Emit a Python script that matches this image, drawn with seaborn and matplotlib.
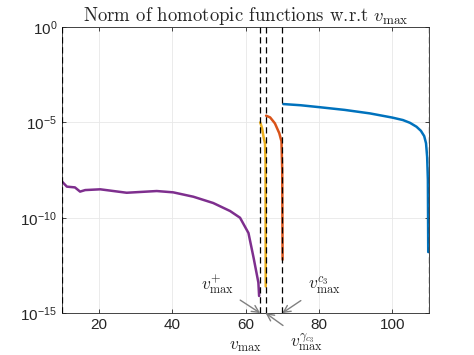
import matplotlib
matplotlib.use("Agg")
import matplotlib.pyplot as plt
import seaborn as sns
import pandas as pd

# branch data
purple_x = [10, 11.3, 13.5, 14.9, 16.3, 20.4, 27.6, 35.8, 40.3, 45.8, 51.2,
            55.8, 58.5, 60.8, 62.2, 63.5, 63.7]
purple_y = [7.76e-9, 4.27e-9, 3.89e-9, 2.34e-9, 2.82e-9, 3.09e-9, 2.04e-9,
            2.51e-9, 2.14e-9, 1.26e-9, 5.9e-10, 2.24e-10, 1e-10, 1.58e-11,
            7.9e-13, 4.0e-14, 7.9e-15]

yellow_x = [64.0, 64.5, 64.9, 65.3, 65.45, 65.5]
yellow_y = [1e-5, 5.0e-6, 1.78e-6, 7.9e-7, 1e-7, 2.5e-14]

red_x = [65.6, 66.7, 68.0, 69.2, 69.8, 70.0, 70.1]
red_y = [2.24e-5, 1.82e-5, 8.9e-6, 2.7e-6, 1e-6, 3.2e-8, 6.3e-13]

blue_x = [70.3, 75, 80.3, 87, 93.9, 100, 102.9, 104.8, 106.6, 107.8, 108.7,
          109.2, 109.5, 109.7, 109.8]
blue_y = [9.1e-5, 7.9e-5, 6.2e-5, 4.5e-5, 2.95e-5, 1.78e-5, 1.32e-5, 9.5e-6,
          5.9e-6, 3.6e-6, 1.9e-6, 8e-7, 1.58e-7, 1e-8, 1.58e-12]

dash_x = [10, 64, 65.5, 70, 110]
x_ticks = [20, 40, 60, 80, 100]
y_ticks = [1e-15, 1e-10, 1e-5, 1e0]

sns.set_style("ticks")
plt.rcParams["font.family"] = ["Liberation Sans", "DejaVu Sans"]
plt.rcParams["mathtext.fontset"] = "cm"

fig = plt.figure(figsize=(4.74, 3.55), dpi=100)
ax = fig.add_axes([0.131, 0.118, 0.774, 0.806])

series = [(purple_x, purple_y, "#7E2F8E"), (yellow_x, yellow_y, "#EDB120"),
          (red_x, red_y, "#D95319"), (blue_x, blue_y, "#0072BD")]
for xs, ys, c in series:
    df = pd.DataFrame({"v": xs, "norm": ys})
    sns.lineplot(data=df, x="v", y="norm", ax=ax, color=c, lw=1.8,
                 estimator=None, sort=False)

for xv in dash_x:
    ax.axvline(xv, color="black", ls=(0, (5, 3)), lw=0.9, zorder=5)

ax.set_yscale("log")
ax.set_xlim(10, 110)
ax.set_ylim(1e-15, 1e0)
ax.set_xticks(x_ticks)
ax.set_yticks(y_ticks)
ax.minorticks_off()
ax.set_xlabel("")
ax.set_ylabel("")
ax.grid(True, color="#e8e8e8", lw=0.6)
ax.tick_params(direction="in", top=True, right=True, labelsize=11,
               colors="#262626", length=3, width=0.6)
for s in ax.spines.values():
    s.set_color("#262626")
    s.set_linewidth(0.6)

ax.set_title(r"$\text{Norm of homotopic functions w.r.t}\ v_{\mathrm{max}}$",
             fontsize=13.5, pad=4)

arrow = dict(arrowstyle="->", color="#808080", lw=1.0, shrinkA=3, shrinkB=0)
ax.annotate(r"$v_{\mathrm{max}}^{+}$", xy=(64, 1e-15), xycoords="data",
            xytext=(217 / 474, 1 - 285 / 355), textcoords="figure fraction",
            ha="center", va="center", fontsize=12.5, arrowprops=arrow)
ax.annotate(r"$v_{\mathrm{max}}^{c_3}$", xy=(70, 1e-15), xycoords="data",
            xytext=(324 / 474, 1 - 285 / 355), textcoords="figure fraction",
            ha="center", va="center", fontsize=12.5, arrowprops=arrow,
            annotation_clip=False)
ax.annotate(r"$v_{\mathrm{max}}^{\gamma_{c_3}}$", xy=(65.5, 1e-15), xycoords="data",
            xytext=(306 / 474, 1 - 342 / 355), textcoords="figure fraction",
            ha="center", va="center", fontsize=12.5, arrowprops=arrow,
            annotation_clip=False)
fig.text(245 / 474, 1 - 346 / 355, r"$v_{\mathrm{max}}$", ha="center",
         va="center", fontsize=12.5)

fig.savefig("out.png", dpi=100)
